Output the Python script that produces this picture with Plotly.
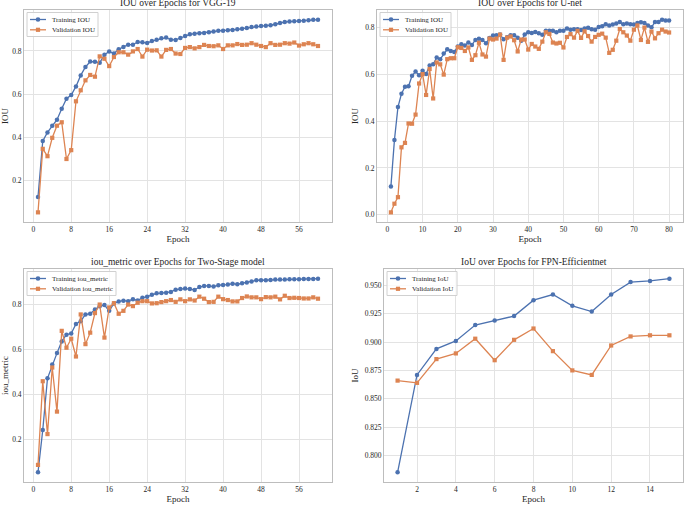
import plotly.graph_objects as go

# ---- data ----
vgg_train = [0.124, 0.383, 0.423, 0.454, 0.482, 0.533, 0.579, 0.596, 0.636, 0.687,
             0.726, 0.751, 0.750, 0.745, 0.783, 0.798, 0.788, 0.808, 0.818, 0.829,
             0.829, 0.842, 0.840, 0.837, 0.846, 0.852, 0.859, 0.862, 0.852, 0.851,
             0.860, 0.869, 0.877, 0.880, 0.882, 0.883, 0.887, 0.890, 0.893, 0.894,
             0.896, 0.897, 0.900, 0.903, 0.906, 0.911, 0.913, 0.916, 0.917, 0.919,
             0.924, 0.930, 0.934, 0.936, 0.937, 0.939, 0.940, 0.942, 0.944, 0.945]
vgg_val = [0.053, 0.347, 0.313, 0.398, 0.454, 0.470, 0.300, 0.341, 0.567, 0.618,
           0.664, 0.689, 0.681, 0.775, 0.764, 0.730, 0.772, 0.794, 0.794, 0.783,
           0.798, 0.809, 0.774, 0.806, 0.802, 0.803, 0.774, 0.805, 0.809, 0.788,
           0.786, 0.814, 0.818, 0.812, 0.818, 0.828, 0.823, 0.822, 0.826, 0.809,
           0.826, 0.826, 0.832, 0.828, 0.829, 0.836, 0.829, 0.823, 0.818, 0.836,
           0.828, 0.829, 0.836, 0.834, 0.839, 0.825, 0.831, 0.836, 0.831, 0.823]

unet_train = [0.121, 0.319, 0.460, 0.517, 0.547, 0.549, 0.594, 0.612, 0.596, 0.615,
              0.602, 0.638, 0.643, 0.672, 0.665, 0.689, 0.707, 0.700, 0.696, 0.719,
              0.729, 0.723, 0.736, 0.726, 0.747, 0.752, 0.747, 0.733, 0.756, 0.766,
              0.767, 0.770, 0.750, 0.759, 0.767, 0.767, 0.757, 0.744, 0.770, 0.780,
              0.777, 0.781, 0.776, 0.769, 0.787, 0.787, 0.786, 0.780, 0.786, 0.787,
              0.796, 0.791, 0.793, 0.793, 0.790, 0.796, 0.799, 0.793, 0.791, 0.803,
              0.806, 0.814, 0.809, 0.813, 0.817, 0.824, 0.814, 0.818, 0.814, 0.813,
              0.820, 0.823, 0.820, 0.809, 0.801, 0.824, 0.824, 0.834, 0.830, 0.830]
unet_val = [0.010, 0.047, 0.075, 0.288, 0.307, 0.390, 0.389, 0.428, 0.561, 0.601,
            0.512, 0.623, 0.497, 0.651, 0.643, 0.599, 0.665, 0.669, 0.669, 0.716,
            0.713, 0.700, 0.715, 0.662, 0.682, 0.735, 0.685, 0.676, 0.753, 0.749,
            0.753, 0.770, 0.662, 0.757, 0.762, 0.746, 0.698, 0.749, 0.749, 0.706,
            0.730, 0.719, 0.709, 0.740, 0.780, 0.773, 0.736, 0.732, 0.735, 0.715,
            0.760, 0.772, 0.757, 0.786, 0.756, 0.784, 0.764, 0.740, 0.760, 0.769,
            0.774, 0.757, 0.692, 0.705, 0.744, 0.794, 0.780, 0.766, 0.744, 0.791,
            0.809, 0.747, 0.800, 0.739, 0.783, 0.754, 0.776, 0.791, 0.783, 0.779]

two_train = [0.055, 0.243, 0.473, 0.534, 0.585, 0.637, 0.667, 0.672, 0.715, 0.727,
             0.757, 0.760, 0.779, 0.793, 0.799, 0.773, 0.806, 0.815, 0.818, 0.816,
             0.825, 0.819, 0.831, 0.836, 0.845, 0.851, 0.852, 0.854, 0.857, 0.867,
             0.870, 0.872, 0.870, 0.866, 0.879, 0.884, 0.884, 0.881, 0.887, 0.888,
             0.890, 0.894, 0.891, 0.896, 0.899, 0.904, 0.909, 0.909, 0.909, 0.910,
             0.912, 0.912, 0.912, 0.913, 0.913, 0.913, 0.915, 0.915, 0.915, 0.916]
two_val = [0.088, 0.460, 0.225, 0.521, 0.325, 0.684, 0.609, 0.649, 0.570, 0.757,
           0.625, 0.676, 0.763, 0.801, 0.654, 0.788, 0.807, 0.760, 0.773, 0.801,
           0.794, 0.809, 0.816, 0.816, 0.806, 0.807, 0.812, 0.816, 0.821, 0.813,
           0.824, 0.816, 0.824, 0.819, 0.836, 0.827, 0.812, 0.813, 0.836, 0.825,
           0.821, 0.815, 0.815, 0.830, 0.837, 0.833, 0.833, 0.825, 0.834, 0.833,
           0.836, 0.824, 0.840, 0.830, 0.831, 0.830, 0.828, 0.828, 0.833, 0.827]

fpn_train = [0.785, 0.871, 0.894, 0.901, 0.915, 0.919, 0.923, 0.937, 0.942, 0.932,
             0.927, 0.942, 0.953, 0.954, 0.956]
fpn_val = [0.866, 0.864, 0.885, 0.890, 0.903, 0.884, 0.902, 0.912, 0.892, 0.875,
           0.871, 0.897, 0.905, 0.906, 0.906]

W, H = 685, 505
BLUE = "#4c72b0"
ORANGE = "#dd8452"
FONT = "Liberation Serif"
TXT = "#262626"


def px(x):
    return x / W


def py(y):
    return 1 - y / H


def pad(lo, hi):
    # matplotlib-style 5% margins
    m = (hi - lo) * 0.05
    return [lo - m, hi + m]


# plot areas in pixels: left, top, right, bottom ; legend box width in px
panels = [
    ("IOU over Epochs for VGG-19", "IOU", "Training IOU", "Validation IOU",
     vgg_train, vgg_val, (24, 10, 332, 222), 8, 0.2, ".1f", 0.2, 71),
    ("IOU over Epochs for U-net", "IOU", "Training IOU", "Validation IOU",
     unet_train, unet_val, (377, 10, 683, 222), 10, 0.2, ".1f", 0.0, 71),
    ("iou_metric over Epochs for Two-Stage model", "iou_metric",
     "Training iou_metric", "Validation iou_metric",
     two_train, two_val, (24, 269, 332, 482), 8, 0.2, ".1f", 0.2, 89),
    ("IoU over Epochs for FPN-Efficientnet", "IoU", "Training IoU", "Validation IoU",
     fpn_train, fpn_val, (384, 269, 683, 482), 2, 0.025, ".3f", 0.8, 70),
]

fig = go.Figure()
layout = dict(
    width=W, height=H,
    margin=dict(l=0, r=0, t=0, b=0),
    paper_bgcolor="white", plot_bgcolor="white",
    font=dict(family=FONT, size=8, color=TXT),
    showlegend=False,
    annotations=[], shapes=[],
)

for i, (title, ylab, tname, vname, tr, va, box, xdt, ydt, yfmt, y0, lw) in enumerate(panels, start=1):
    sfx = "" if i == 1 else str(i)
    l, t, r, b = box
    epochs = list(range(1, len(tr) + 1))
    fig.add_trace(go.Scatter(
        x=epochs, y=tr, name=tname, mode="lines+markers",
        line=dict(color=BLUE, width=1.3),
        marker=dict(symbol="circle", size=4.5, color=BLUE),
        xaxis="x" + sfx, yaxis="y" + sfx))
    fig.add_trace(go.Scatter(
        x=epochs, y=va, name=vname, mode="lines+markers",
        line=dict(color=ORANGE, width=1.3),
        marker=dict(symbol="square", size=4.2, color=ORANGE),
        xaxis="x" + sfx, yaxis="y" + sfx))

    lo = min(min(tr), min(va))
    hi = max(max(tr), max(va))
    x0 = 0 if len(tr) > 20 else 2
    axis_common = dict(
        showgrid=True, gridcolor="#e3e3e3", gridwidth=1,
        showline=True, linecolor="#bdbdbd", linewidth=1, mirror=True,
        zeroline=False, ticks="", tickfont=dict(size=7.5, family=FONT, color=TXT))
    layout["xaxis" + sfx] = dict(
        domain=[px(l), px(r)], anchor="y" + sfx, range=pad(1, len(tr)),
        tick0=x0, dtick=xdt,
        title=dict(text="Epoch", font=dict(size=9, family=FONT, color=TXT), standoff=1),
        **axis_common)
    layout["yaxis" + sfx] = dict(
        domain=[py(b), py(t)], anchor="x" + sfx, range=pad(lo, hi),
        tick0=y0, dtick=ydt, tickformat=yfmt,
        title=dict(text=ylab, font=dict(size=9, family=FONT, color=TXT), standoff=4),
        **axis_common)

    # title
    layout["annotations"].append(dict(
        text=title, x=px((l + r) / 2), y=py(t), xref="paper", yref="paper",
        xanchor="center", yanchor="bottom", showarrow=False, yshift=0,
        font=dict(size=9.5, family=FONT, color=TXT)))

    # legend box (matplotlib style) in the upper left corner of the plot area
    bl, bt = l + 3, t + 2.5
    layout["shapes"].append(dict(
        type="rect", xref="paper", yref="paper",
        x0=px(bl), x1=px(bl + lw), y0=py(bt), y1=py(bt + 24),
        line=dict(color="#d0d0d0", width=1), fillcolor="rgba(255,255,255,0.8)"))
    for k, (name, col, sym) in enumerate([(tname, BLUE, "circle"), (vname, ORANGE, "rect")]):
        yc = bt + 7 + k * 10.3
        layout["shapes"].append(dict(
            type="line", xref="paper", yref="paper",
            x0=px(bl + 3), x1=px(bl + 19), y0=py(yc), y1=py(yc),
            line=dict(color=col, width=1.3)))
        sz = 2.3 if sym == "circle" else 2.1
        layout["shapes"].append(dict(
            type=sym, xref="paper", yref="paper",
            xsizemode="pixel", ysizemode="pixel",
            xanchor=px(bl + 11), yanchor=py(yc),
            x0=-sz, x1=sz, y0=-sz, y1=sz,
            line=dict(color=col, width=0), fillcolor=col))
        layout["annotations"].append(dict(
            text=name, x=px(bl + 23), y=py(yc), xref="paper", yref="paper",
            xanchor="left", yanchor="middle", showarrow=False,
            font=dict(size=7, family=FONT, color=TXT)))

fig.update_layout(**layout)
fig.write_html("out.html", config={"displayModeBar": False},
               post_script="document.body.style.margin='0';")
